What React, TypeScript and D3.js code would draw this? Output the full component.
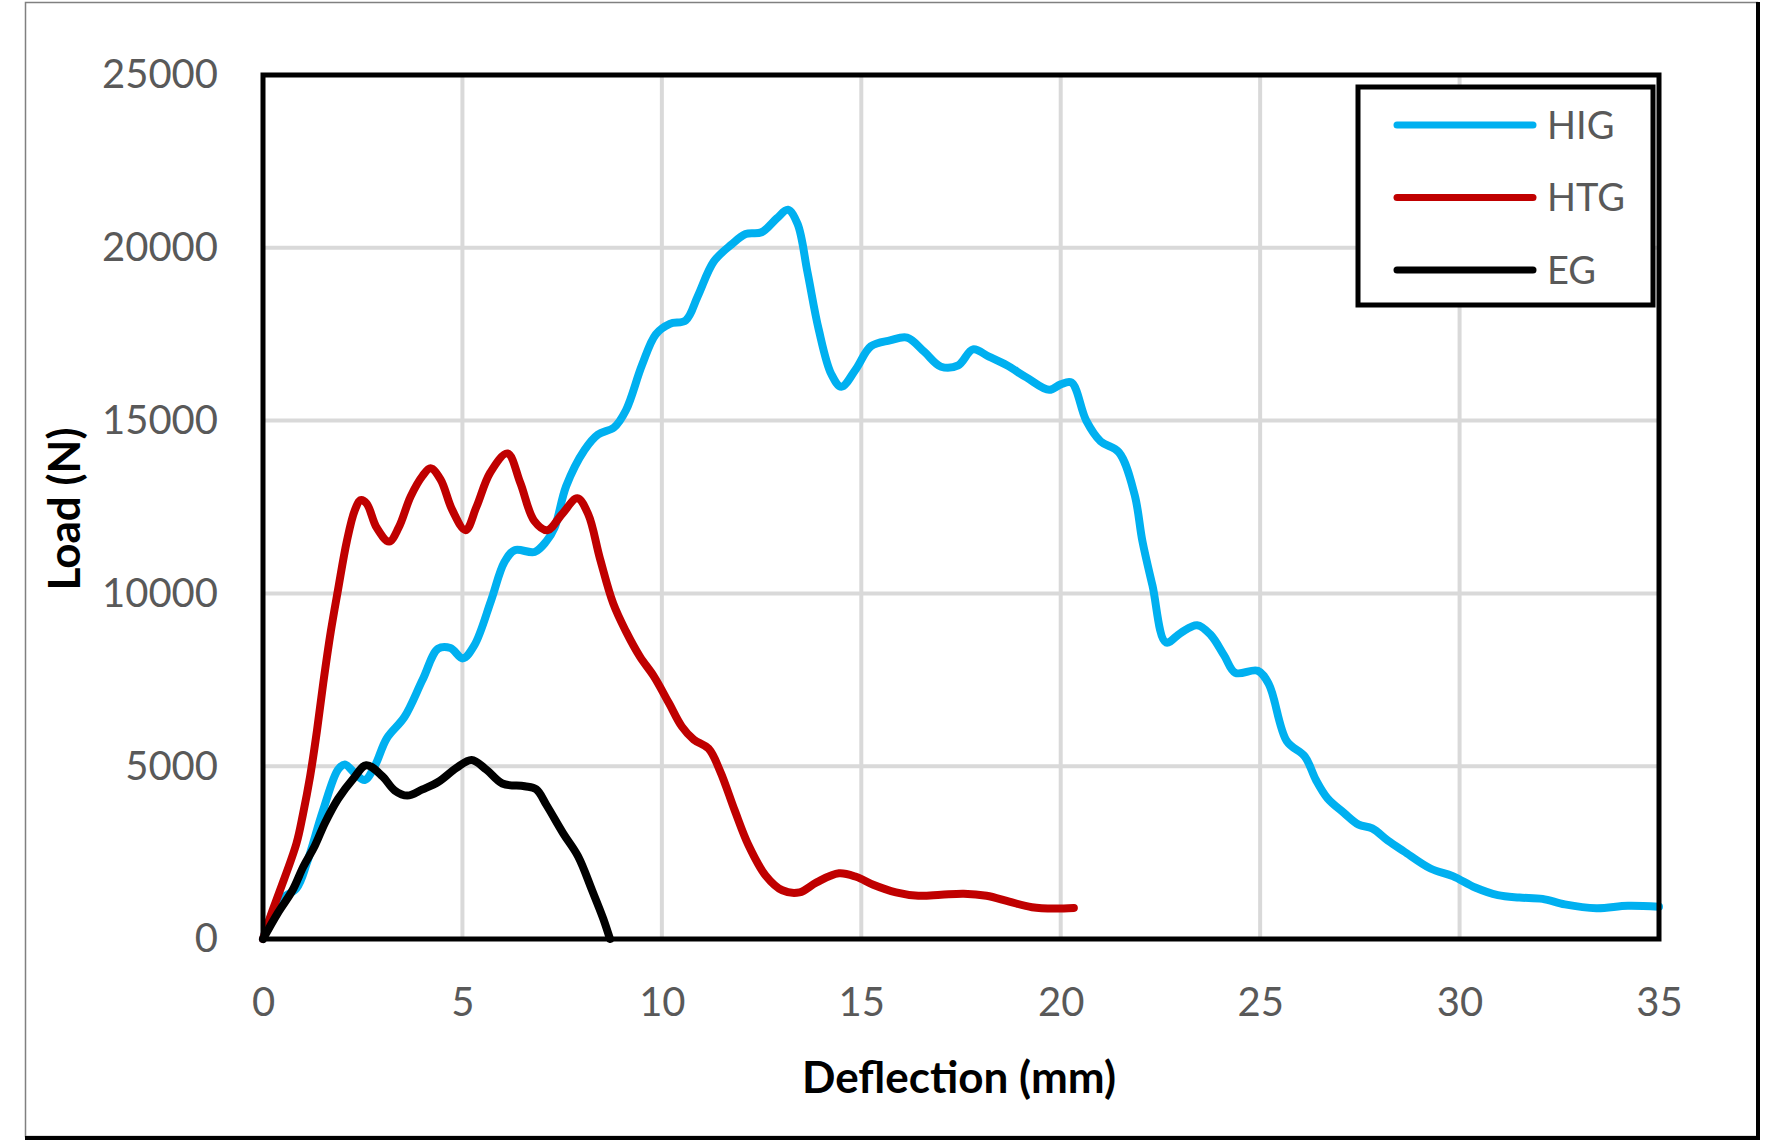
import React, { useEffect, useRef } from 'react'
import * as d3 from 'd3'

// Load–deflection curves, [deflection (mm), load (N)]
const higPoints: [number, number][] = [
  [0, 0], [0.4, 1100], [0.84, 1470], [1.1, 2200], [1.5, 3700], [1.88, 4900], [2.05, 5050],
  [2.3, 4800], [2.55, 4600], [2.8, 5000], [3.1, 5800], [3.55, 6430], [4.0, 7500], [4.39, 8400],
  [4.7, 8420], [5.01, 8120], [5.3, 8500], [5.72, 9800], [6.05, 10900], [6.31, 11250], [6.81, 11200],
  [7.1, 11500], [7.31, 11900], [7.6, 13100], [8.06, 14150], [8.4, 14600], [8.8, 14800], [9.1, 15300],
  [9.5, 16600], [9.85, 17500], [10.2, 17800], [10.6, 17900], [10.9, 18600], [11.3, 19600],
  [11.75, 20100], [12.1, 20400], [12.5, 20450], [12.88, 20850], [13.16, 21100], [13.4, 20700],
  [13.65, 19300], [13.93, 17650], [14.25, 16340], [14.5, 15980], [14.87, 16500], [15.24, 17150],
  [15.72, 17320], [16.15, 17400], [16.58, 16990], [17.0, 16560], [17.43, 16600], [17.8, 17060],
  [18.2, 16850], [18.65, 16600], [19.14, 16250], [19.71, 15890], [20.0, 16050], [20.27, 16100],
  [20.64, 15000], [21.0, 14400], [21.46, 14080], [21.85, 12870], [22.05, 11500], [22.3, 10230],
  [22.64, 8580], [23.0, 8850], [23.42, 9080], [23.76, 8800], [24.1, 8200], [24.38, 7700],
  [24.94, 7760], [25.22, 7370], [25.67, 5720], [26.12, 5280], [26.4, 4600], [26.69, 4070],
  [27.1, 3650], [27.47, 3310], [27.81, 3200], [28.2, 2850], [28.6, 2540], [29.27, 2040],
  [29.83, 1820], [30.39, 1490], [30.96, 1270], [31.5, 1200], [32.08, 1160], [32.64, 1000],
  [33.43, 890], [34.22, 960], [35, 930],
]

const htgPoints: [number, number][] = [
  [0, 0], [0.2, 700], [0.43, 1420], [0.84, 2770], [1.0, 3600], [1.18, 4700], [1.35, 6000],
  [1.51, 7400], [1.7, 8900], [1.88, 10100], [2.1, 11500], [2.3, 12400], [2.45, 12700], [2.6, 12600],
  [2.85, 11900], [3.16, 11500], [3.4, 11900], [3.7, 12800], [4.0, 13400], [4.2, 13620], [4.45, 13300],
  [4.75, 12400], [5.08, 11830], [5.35, 12500], [5.7, 13500], [6.13, 14050], [6.45, 13200],
  [6.8, 12100], [7.13, 11830], [7.5, 12300], [7.88, 12750], [8.15, 12300], [8.45, 11000],
  [8.78, 9710], [9.1, 8900], [9.45, 8170], [9.8, 7600], [10.18, 6820], [10.5, 6150], [10.8, 5770],
  [11.17, 5510], [11.46, 4860], [11.83, 3710], [12.17, 2720], [12.6, 1840], [13.02, 1410],
  [13.45, 1350], [13.88, 1640], [14.44, 1900], [14.87, 1800], [15.3, 1570], [15.87, 1350],
  [16.43, 1250], [17.0, 1280], [17.57, 1310], [18.14, 1250], [18.71, 1080], [19.28, 920],
  [19.85, 880], [20.33, 900],
]

const egPoints: [number, number][] = [
  [0, 0], [0.37, 750], [0.74, 1410], [1.01, 2090], [1.3, 2700], [1.55, 3350], [1.88, 4050],
  [2.27, 4650], [2.59, 5030], [3.0, 4700], [3.3, 4300], [3.62, 4150], [4.0, 4330], [4.4, 4550],
  [4.85, 4950], [5.23, 5180], [5.6, 4900], [6.0, 4500], [6.56, 4420], [6.85, 4330], [7.11, 3870],
  [7.53, 3050], [7.9, 2390], [8.25, 1410], [8.53, 590], [8.7, 0],
]

const seriesNames = ['HIG', 'HTG', 'EG']
const seriesColors = ['#00B0F0', '#C00000', '#000000']
const xTicks = [0, 5, 10, 15, 20, 25, 30, 35]
const yTicks = [0, 5000, 10000, 15000, 20000, 25000]

const WIDTH = 1778
const HEIGHT = 1147
const FONT = 'Lato, "Open Sans", sans-serif'

const App: React.FC = () => {
  const svgRef = useRef<SVGSVGElement | null>(null)

  useEffect(() => {
    if (!svgRef.current) return
    const svg = d3.select(svgRef.current)
    svg.selectAll('*').remove()

    const margin = { top: 75, right: 119, bottom: 208, left: 263 }
    const innerW = WIDTH - margin.left - margin.right
    const innerH = HEIGHT - margin.top - margin.bottom

    // outer frame: thin grey top/left, heavy black right/bottom
    svg.append('rect')
      .attr('x', 25.5).attr('y', 2.5)
      .attr('width', 1732).attr('height', 1134)
      .attr('fill', 'white')
      .attr('stroke', '#808080')
      .attr('stroke-width', 1.5)
    svg.append('line')
      .attr('x1', 1758).attr('x2', 1758).attr('y1', 2).attr('y2', 1140)
      .attr('stroke', '#000').attr('stroke-width', 4)
    svg.append('line')
      .attr('x1', 25).attr('x2', 1760).attr('y1', 1138).attr('y2', 1138)
      .attr('stroke', '#000').attr('stroke-width', 4)

    const g = svg.append('g').attr('transform', `translate(${margin.left},${margin.top})`)

    const x = d3.scaleLinear().domain([0, 35]).range([0, innerW])
    const y = d3.scaleLinear().domain([0, 25000]).range([innerH, 0])

    // gridlines
    g.append('g')
      .selectAll('line')
      .data(yTicks.slice(1, -1))
      .join('line')
      .attr('x1', 0).attr('x2', innerW)
      .attr('y1', d => y(d)).attr('y2', d => y(d))
      .attr('stroke', '#D9D9D9').attr('stroke-width', 4)
    g.append('g')
      .selectAll('line')
      .data(xTicks.slice(1, -1))
      .join('line')
      .attr('x1', d => x(d)).attr('x2', d => x(d))
      .attr('y1', 0).attr('y2', innerH)
      .attr('stroke', '#D9D9D9').attr('stroke-width', 4)

    // axes (labels only)
    const yAxis = g.append('g')
      .call(d3.axisLeft(y).tickValues(yTicks).tickSize(0).tickPadding(45).tickFormat(d => String(d)))
    const xAxis = g.append('g')
      .attr('transform', `translate(0,${innerH})`)
      .call(d3.axisBottom(x).tickValues(xTicks).tickSize(0).tickPadding(49).tickFormat(d => String(d)))
    ;[yAxis, xAxis].forEach(ax => {
      ax.select('.domain').remove()
      ax.selectAll('text')
        .attr('fill', '#595959')
        .style('font-family', FONT)
        .style('font-size', '40px')
    })

    // curves
    const line = d3.line<[number, number]>()
      .x(d => x(d[0]))
      .y(d => y(d[1]))
      .curve(d3.curveCatmullRom.alpha(0.5))

    const allSeries = [higPoints, htgPoints, egPoints]
    allSeries.forEach((pts, i) => {
      g.append('path')
        .datum(pts)
        .attr('fill', 'none')
        .attr('stroke', seriesColors[i])
        .attr('stroke-width', 8)
        .attr('stroke-linejoin', 'round')
        .attr('stroke-linecap', 'round')
        .attr('d', line)
    })

    // plot border
    g.append('rect')
      .attr('x', 0).attr('y', 0)
      .attr('width', innerW).attr('height', innerH)
      .attr('fill', 'none')
      .attr('stroke', '#000')
      .attr('stroke-width', 5)

    // axis titles
    svg.append('text')
      .attr('x', 959).attr('y', 1093)
      .attr('text-anchor', 'middle')
      .style('font-family', FONT)
      .style('font-size', '44px')
      .style('font-weight', 'bold')
      .attr('fill', '#000')
      .text('Deflection (mm)')

    svg.append('text')
      .attr('transform', 'translate(80,509) rotate(-90)')
      .attr('text-anchor', 'middle')
      .style('font-family', FONT)
      .style('font-size', '44px')
      .style('font-weight', 'bold')
      .attr('fill', '#000')
      .text('Load (N)')

    // legend
    const legend = svg.append('g').attr('transform', 'translate(1358,87)')
    legend.append('rect')
      .attr('width', 295).attr('height', 218)
      .attr('fill', 'white')
      .attr('stroke', '#000')
      .attr('stroke-width', 5)

    seriesNames.forEach((name, i) => {
      const row = legend.append('g').attr('transform', `translate(0,${38 + i * 72.5})`)
      row.append('line')
        .attr('x1', 39).attr('x2', 175)
        .attr('stroke', seriesColors[i])
        .attr('stroke-width', 7)
        .attr('stroke-linecap', 'round')
      row.append('text')
        .attr('x', 189)
        .attr('dy', '0.36em')
        .attr('fill', '#595959')
        .style('font-family', FONT)
        .style('font-size', '38px')
        .text(name)
    })
  }, [])

  return (
    <svg
      ref={svgRef}
      width={WIDTH}
      height={HEIGHT}
      style={{ position: 'absolute', left: 0, top: 0, display: 'block', background: 'white' }}
    />
  )
}

export default App
